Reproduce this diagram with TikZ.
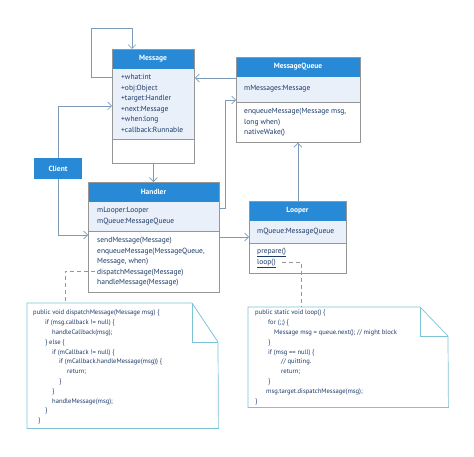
\documentclass[tikz,border=0pt]{standalone}
\usepackage{fontspec}
\setmainfont{PT Sans}
\usetikzlibrary{arrows.meta}
\definecolor{hdr}{RGB}{40,138,214}
\definecolor{attrfill}{RGB}{233,240,249}
\definecolor{boxline}{RGB}{150,150,150}
\definecolor{txt}{RGB}{28,58,105}
\definecolor{connc}{RGB}{125,155,185}
\definecolor{noteline}{RGB}{125,195,215}
\definecolor{dashc}{RGB}{150,150,150}
\begin{document}
\begin{tikzpicture}[x=1pt,y=-1pt,
  classbox/.style={draw=boxline, line width=0.8pt, rectangle, inner sep=0pt, anchor=north west},
  sepline/.style={draw=boxline, line width=0.8pt},
  hdrtext/.style={text=white, font=\fontsize{7.5}{9}\selectfont\bfseries, inner sep=0pt},
  body/.style={text=txt, font=\fontsize{7.5}{10.6}\selectfont, align=left, anchor=north west, inner sep=0pt},
  conn/.style={draw=connc, line width=0.7pt, -{Straight Barb[length=4pt,width=8pt]}},
  dashline/.style={draw=dashc, line width=0.7pt, dash pattern=on 4pt off 3pt},
  notebox/.style={draw=noteline, fill=white, line width=0.7pt},
  notetext/.style={text=txt, font=\fontsize{6.6}{9.8}\selectfont, align=left, anchor=north west, inner sep=0pt},
  notearea/.style={inner sep=0pt, anchor=north west, rectangle}
]
\fill[white] (0,0) rectangle (474,457);
\useasboundingbox (0,0) rectangle (474,457);

% ---------- Message ----------
\fill[hdr] (112,49) rectangle (194,69);
\fill[attrfill] (112,69) rectangle (194,139);
\node[classbox, minimum width=82pt, minimum height=114pt] (message) at (112,49) {};
\draw[sepline] (112,139) -- (194,139);
\node[hdrtext] (message-title) at (153,59) {Message};
\node[body] (message-attrs) at (121,74) {+what:int\\+obj:Object\\+target:Handler\\+next:Message\\+when:long\\+callback:Runnable};

% ---------- MessageQueue ----------
\fill[hdr] (236,57) rectangle (360,77);
\fill[attrfill] (236,77) rectangle (360,102);
\node[classbox, minimum width=124pt, minimum height=85pt] (mq) at (236,57) {};
\draw[sepline] (236,102) -- (360,102);
\node[hdrtext] (mq-title) at (298,67) {MessageQueue};
\node[body] (mq-attrs) at (244,85) {mMessages:Message};
\node[body] (mq-ops) at (244,108) {enqueueMessage(Message msg,\\long when)\\nativeWake()};

% ---------- Handler ----------
\fill[hdr] (88,182) rectangle (219,202);
\fill[attrfill] (88,202) rectangle (219,231);
\node[classbox, minimum width=131pt, minimum height=110pt] (handler) at (88,182) {};
\draw[sepline] (88,231) -- (219,231);
\node[hdrtext] (handler-title) at (153.5,192) {Handler};
\node[body] (handler-attrs) at (97,207) {mLooper:Looper\\mQueue:MessageQueue};
\node[body] (handler-ops) at (97,237) {sendMessage(Message)\\enqueueMessage(MessageQueue,\\Message, when)\\dispatchMessage(Message)\\handleMessage(Message)};

% ---------- Looper ----------
\fill[hdr] (249,201) rectangle (346,221);
\fill[attrfill] (249,221) rectangle (346,243);
\node[classbox, minimum width=97pt, minimum height=72pt] (looper) at (249,201) {};
\draw[sepline] (249,243) -- (346,243);
\node[hdrtext] (looper-title) at (297.5,211) {Looper};
\node[body] (looper-attrs) at (257,228) {mQueue:MessageQueue};
\node[body] (looper-ops) at (257,248) {\underline{prepare()}\\\underline{loop()}};

% ---------- Client ----------
\node[fill=hdr, minimum width=48pt, minimum height=21pt, inner sep=0pt, text=white,
      font=\fontsize{7.5}{9}\selectfont\bfseries] (client) at (58,168.5) {Client};

% ---------- connectors ----------
\draw[conn] (message.west |- 0,77) -- (91,77) -- (91,28) -- (132,28) -- (message.north -| 132,0);
\draw[conn] (mq.west |- 0,78) -- (message.east |- 0,78);
\draw[conn] (client.north) |- (message.west |- 0,106);
\draw[conn] (client.south) |- (handler.west |- 0,235);
\draw[conn] (message.south) -- (message.south |- handler.north);
\draw[conn] (handler.east |- 0,208) -- (225,208) -- (225,100) -- (mq.west |- 0,100);
\draw[conn] (handler.east |- 0,237) -- (looper.west |- 0,237);
\draw[conn] (looper.north) -- (looper.north |- mq.south);

% ---------- notes ----------
\node[notearea, minimum width=191pt, minimum height=125pt] (note1) at (27,303) {};
\draw[notebox] (note1.north west) -- (192,303) -- (218,342) -- (note1.south east) -- (note1.south west) -- cycle;
\draw[draw=noteline, line width=0.7pt] (192,303) -- (192,342) -- (218,342);
\node[notetext] (note1-text) at (33,310) {%
public void dispatchMessage(Message msg) \{\\
\hspace*{12pt}if (msg.callback != null) \{\\
\hspace*{19pt}handleCallback(msg);\\
\hspace*{12pt}\} else \{\\
\hspace*{19pt}if (mCallback != null) \{\\
\hspace*{26pt}if (mCallback.handleMessage(msg)) \{\\
\hspace*{34pt}return;\\
\hspace*{26pt}\}\\
\hspace*{19pt}\}\\
\hspace*{19pt}handleMessage(msg);\\
\hspace*{12pt}\}\\
\hspace*{5pt}\}};

\node[notearea, minimum width=200pt, minimum height=100pt] (note2) at (248,307) {};
\draw[notebox] (note2.north west) -- (420,307) -- (448,336) -- (note2.south east) -- (note2.south west) -- cycle;
\draw[draw=noteline, line width=0.7pt] (420,307) -- (420,336) -- (448,336);
\node[notetext] (note2-text) at (255,310) {%
public static void loop() \{\\
\hspace*{13pt}for (;;) \{\\
\hspace*{19pt}Message msg = queue.next(); // might block\\
\hspace*{13pt}\}\\
\hspace*{13pt}if (msg == null) \{\\
\hspace*{26pt}// quitting.\\
\hspace*{26pt}return;\\
\hspace*{13pt}\}\\
\hspace*{11pt}msg.target.dispatchMessage(msg);\\
\}};

% ---------- dashed links ----------
\coordinate (dispatch) at (95,271);
\coordinate (loopref) at (282,262);
\draw[dashline] (dispatch) -- (65,271) -- (note1.north -| 65,0);
\draw[dashline] (loopref) -- (301,262) -- (note2.north -| 301,0);
\end{tikzpicture}
\end{document}
